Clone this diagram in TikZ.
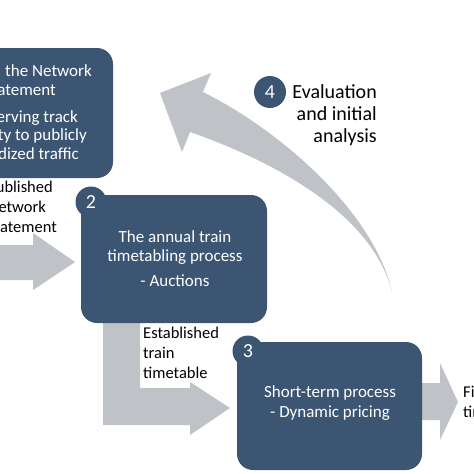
\documentclass[tikz,border=0pt]{standalone}
\usepackage{fontspec}
\setmainfont{Carlito}
\definecolor{boxblue}{HTML}{3B5572}
\definecolor{arrowgray}{HTML}{BFC2C6}
\begin{document}
\begin{tikzpicture}[x=1pt,y=-1pt,
  box/.style={fill=boxblue, rounded corners=16pt},
  garrow/.style={fill=arrowgray},
  boxtext/.style={text=white, font=\fontsize{17}{18}\selectfont, inner sep=0},
  lbl/.style={text=black, font=\fontsize{16.5}{18}\selectfont, inner sep=0},
  evtext/.style={text=black, font=\fontsize{20}{22}\selectfont, inner sep=0, anchor=base east},
  numcirc/.style={circle, fill=boxblue, minimum size=31pt, inner sep=0, text=white, font=\fontsize{20}{20}\selectfont}]
\useasboundingbox (0,0) rectangle (474,474);
\clip (0,0) rectangle (474,474);

% gray arrows
\fill[garrow] (-5,245) -- (33,245) -- (33,233) -- (75,262) -- (33,290) -- (33,280) -- (-5,280) -- cycle;
\fill[garrow] (103,310) -- (140,310) -- (140,388) -- (190,388) -- (190,382) -- (230,408) -- (190,435) -- (190,425) -- (103,425) -- cycle;
\fill[garrow] (415,383) -- (440,383) -- (440,363) -- (458,402) -- (440,440) -- (440,420) -- (415,420) -- cycle;
\fill[garrow] (392,292) .. controls (375,215) and (285,133) .. (203,92) -- (211,73) -- (160,93) -- (182,152) -- (190,132) .. controls (270,160) and (372,212) .. (392,292) -- cycle;

% box 1
\fill[box] (-40,48) rectangle (113,178);
\node[boxtext, anchor=base east] (b1a) at (92,76) {the Network};
\node[boxtext, anchor=base east] (b1b) at (56,95) {Statement};
\node[boxtext, anchor=base east] (b1c) at (78,122) {- Reserving track};
\node[boxtext, anchor=base east] (b1d) at (87,140) {capacity to publicly};
\node[boxtext, anchor=base east] (b1e) at (79,159) {subsidized traffic};

% label 1
\node[lbl, anchor=base east] (l1a) at (53,192) {Published};
\node[lbl, anchor=base east] (l1b) at (46,212) {Network};
\node[lbl, anchor=base east] (l1c) at (57,232) {Statement};

% box 2
\fill[box] (81,195) rectangle (267,323);
\node[numcirc] (n2) at (91,202) {2};
\node[boxtext, anchor=base] (b2a) at (175,242) {The annual train};
\node[boxtext, anchor=base] (b2b) at (175,261) {timetabling process};
\node[boxtext, anchor=base] (b2c) at (175,286) {- Auctions};

% label 2
\node[lbl, anchor=base west] (l2a) at (143,338) {Established};
\node[lbl, anchor=base west] (l2b) at (143,358) {train};
\node[lbl, anchor=base west] (l2c) at (143,378) {timetable};

% box 3
\fill[box] (237,342) rectangle (422,470);
\node[numcirc] (n3) at (248,351) {3};
\node[boxtext, anchor=base] (b3a) at (330,397) {Short-term process};
\node[boxtext, anchor=base] (b3b) at (330,417) {- Dynamic pricing};

% label 3
\node[lbl, anchor=base west] (l3a) at (463,397) {Final};
\node[lbl, anchor=base west] (l3b) at (463,417) {timetable};

% evaluation
\node[numcirc, minimum size=32pt] (n4) at (270,92) {4};
\node[evtext] (e1) at (377,98) {Evaluation};
\node[evtext] (e2) at (377,120) {and initial};
\node[evtext] (e3) at (377,142) {analysis};
\end{tikzpicture}
\end{document}
